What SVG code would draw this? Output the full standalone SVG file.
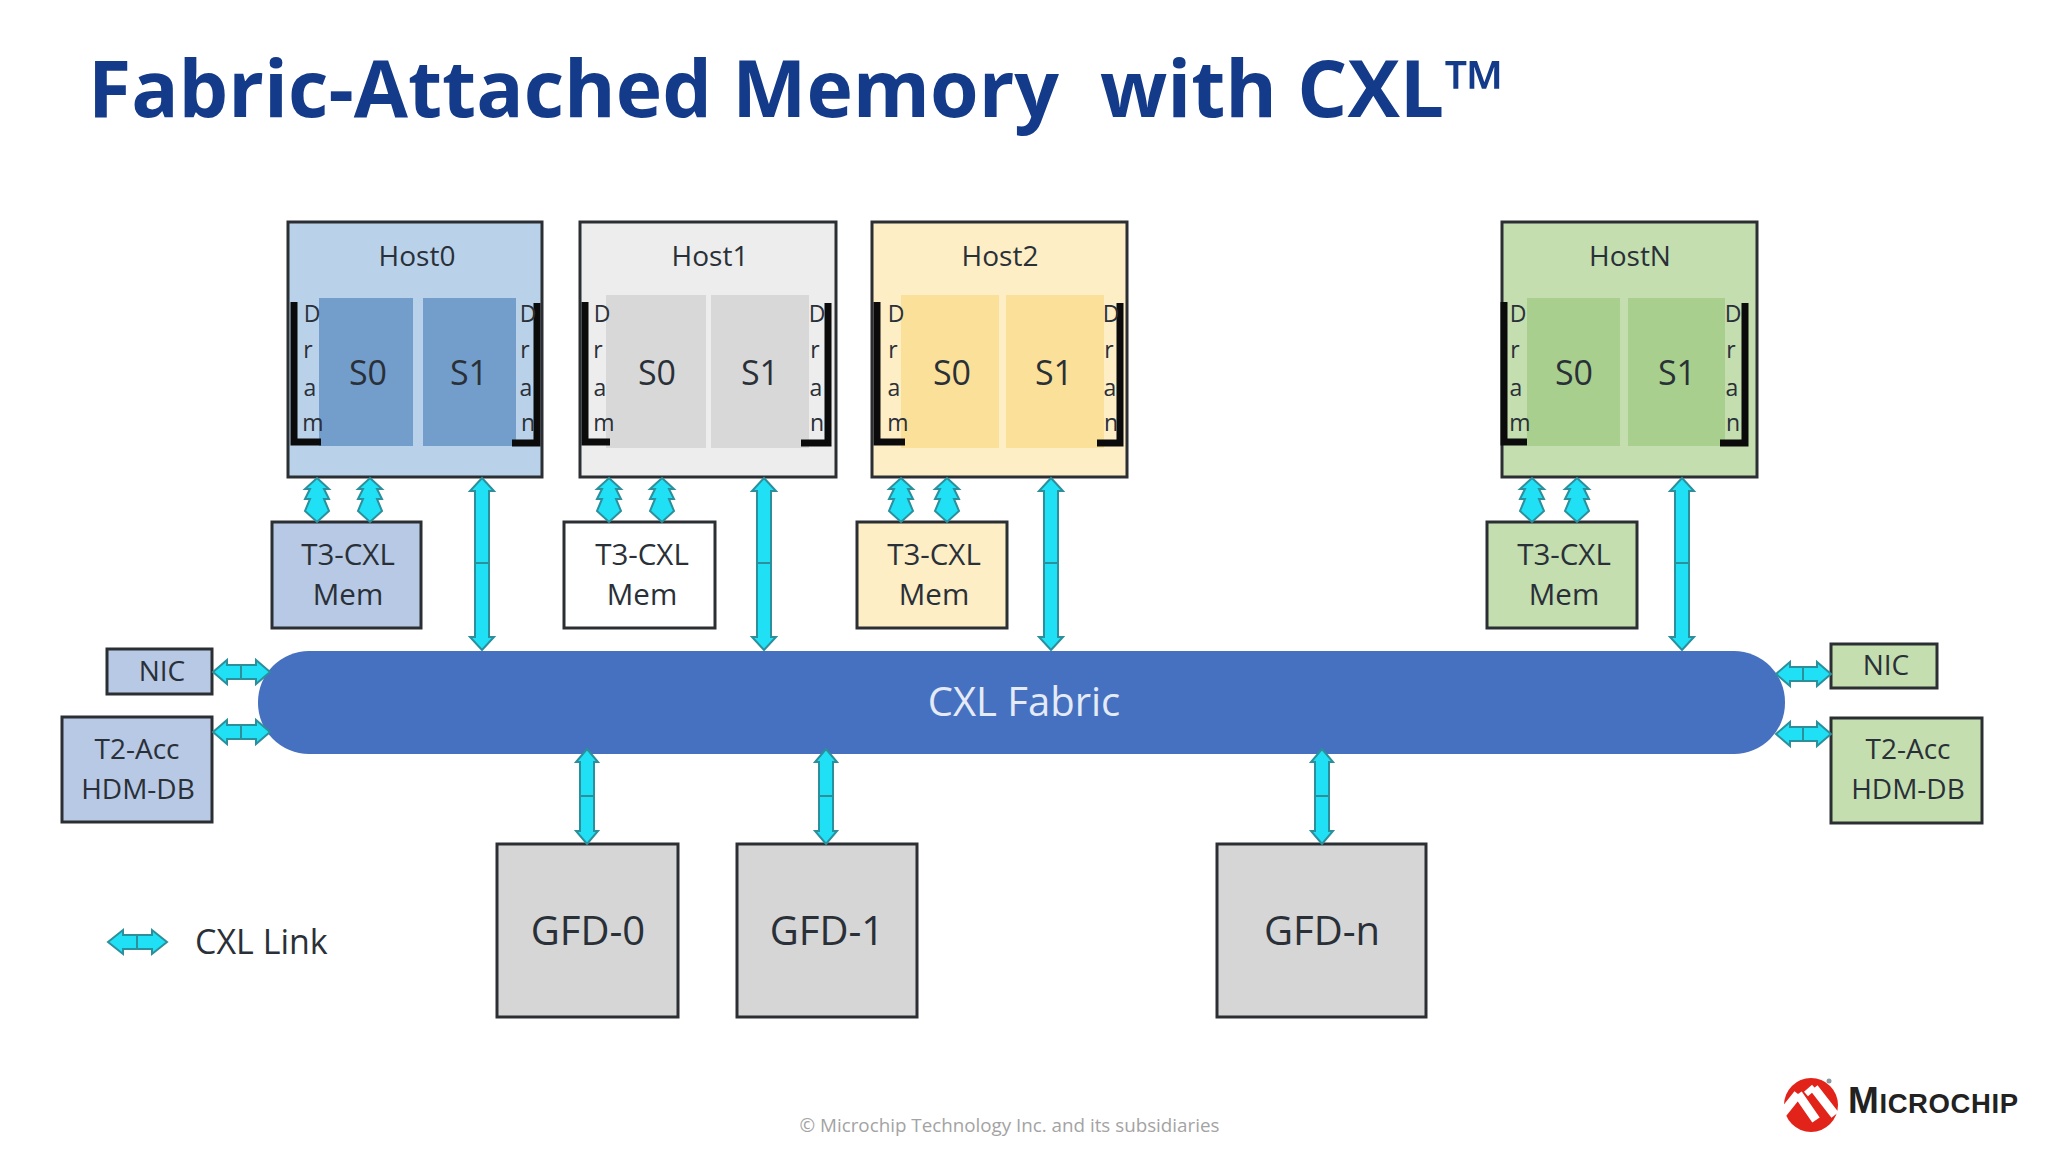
<svg xmlns="http://www.w3.org/2000/svg" width="2048" height="1152" viewBox="0 0 2048 1152">
<style>
text{font-family:"Open Sans","Noto Sans","Liberation Sans",sans-serif;fill:#2a3038;text-anchor:middle}
.box{stroke:#2b2f33;stroke-width:3}
.blue{fill:#b9d2ea}.grey{fill:#ededed}.yel{fill:#fdeec6}.grn{fill:#c4deaf}
.t3b{fill:#b7c9e4}.wht{fill:#fff}.gfd{fill:#d6d6d6}
.s{stroke:none}
.br{fill:none;stroke:#0b0b0b;stroke-width:7}
.h{font-size:28px}.sk{font-size:34px}.m{font-size:29.5px}.d text{font-size:23px}.g{font-size:40px}
.link{fill:#20e0f6;stroke:#2c8f9c;stroke-width:2}
</style>
<rect width="2048" height="1152" fill="#fff"/>
<text id="title" x="88" y="117" style="text-anchor:start;white-space:pre;font-size:78.6px;font-weight:700;fill:#143a8a">Fabric-Attached Memory  with CXL™</text>

<g id="host0">
<rect class="box blue" x="288" y="222" width="254" height="255"/>
<rect class="s" fill="#739dca" x="319" y="298" width="94" height="148"/>
<rect class="s" fill="#739dca" x="423" y="298" width="93" height="148"/>
<path class="br" d="M294 302V442H321M537 303V443H512"/>
<text class="h" x="417" y="266">Host0</text><text class="sk" x="368" y="385">S0</text><text class="sk" x="469" y="385">S1</text>
<g class="d"><text x="312" y="322">D</text><text x="308" y="358">r</text><text x="310" y="396">a</text><text x="313" y="431">m</text><text x="528" y="322">D</text><text x="525" y="358">r</text><text x="526" y="396">a</text><text x="528" y="431">n</text></g>
</g>
<g id="host1">
<rect class="box grey" x="580" y="222" width="256" height="255"/>
<rect class="s" fill="#d8d8d8" x="606" y="295" width="100" height="153"/>
<rect class="s" fill="#d8d8d8" x="711" y="295" width="98" height="153"/>
<path class="br" d="M585 302V442H610M828 303V443H801"/>
<text class="h" x="710" y="266">Host1</text><text class="sk" x="657" y="385">S0</text><text class="sk" x="760" y="385">S1</text>
<g class="d"><text x="602" y="322">D</text><text x="598" y="358">r</text><text x="600" y="396">a</text><text x="604" y="431">m</text><text x="817" y="322">D</text><text x="815" y="358">r</text><text x="816" y="396">a</text><text x="817" y="431">n</text></g>
</g>
<g id="host2">
<rect class="box yel" x="872" y="222" width="255" height="255"/>
<rect class="s" fill="#fbe099" x="901" y="295" width="98" height="153"/>
<rect class="s" fill="#fbe099" x="1006" y="295" width="98" height="153"/>
<path class="br" d="M877 302V442H905M1120 303V443H1097"/>
<text class="h" x="1000" y="266">Host2</text><text class="sk" x="952" y="385">S0</text><text class="sk" x="1054" y="385">S1</text>
<g class="d"><text x="896" y="322">D</text><text x="893" y="358">r</text><text x="894" y="396">a</text><text x="898" y="431">m</text><text x="1111" y="322">D</text><text x="1109" y="358">r</text><text x="1110" y="396">a</text><text x="1111" y="431">n</text></g>
</g>
<g id="hostN">
<rect class="box grn" x="1502" y="222" width="255" height="255"/>
<rect class="s" fill="#a8cf8d" x="1527" y="298" width="93" height="148"/>
<rect class="s" fill="#a8cf8d" x="1628" y="298" width="97" height="148"/>
<path class="br" d="M1504 302V442H1527M1745 303V443H1720"/>
<text class="h" x="1630" y="266">HostN</text><text class="sk" x="1574" y="385">S0</text><text class="sk" x="1677" y="385">S1</text>
<g class="d"><text x="1518" y="322">D</text><text x="1515" y="358">r</text><text x="1516" y="396">a</text><text x="1520" y="431">m</text><text x="1733" y="322">D</text><text x="1731" y="358">r</text><text x="1732" y="396">a</text><text x="1733" y="431">n</text></g>
</g>

<g id="t3-0"><rect class="box t3b" x="272" y="522" width="149" height="106"/><text class="m" x="348" y="565">T3-CXL</text><text class="m" x="348" y="605">Mem</text></g>
<g id="t3-1"><rect class="box wht" x="564" y="522" width="151" height="106"/><text class="m" x="642" y="565">T3-CXL</text><text class="m" x="642" y="605">Mem</text></g>
<g id="t3-2"><rect class="box yel" x="857" y="522" width="150" height="106"/><text class="m" x="934" y="565">T3-CXL</text><text class="m" x="934" y="605">Mem</text></g>
<g id="t3-n"><rect class="box grn" x="1487" y="522" width="150" height="106"/><text class="m" x="1564" y="565">T3-CXL</text><text class="m" x="1564" y="605">Mem</text></g>

<g id="fabric"><rect x="258" y="651" width="1527" height="103" rx="51" fill="#4571c0"/><text x="1024" y="716" style="font-size:40px;fill:#e4eaf6">CXL Fabric</text></g>

<g id="nic-l"><rect class="box t3b" x="107" y="649" width="105" height="45"/><text class="h" x="162" y="681">NIC</text></g>
<g id="t2-l"><rect class="box t3b" x="62" y="717" width="150" height="105"/><text class="h" x="137" y="759">T2-Acc</text><text class="h" x="138" y="799">HDM-DB</text></g>
<g id="nic-r"><rect class="box grn" x="1831" y="644" width="106" height="44"/><text class="h" x="1886" y="675">NIC</text></g>
<g id="t2-r"><rect class="box grn" x="1831" y="718" width="151" height="105"/><text class="h" x="1908" y="759">T2-Acc</text><text class="h" x="1908" y="799">HDM-DB</text></g>

<g id="gfd-0"><rect class="box gfd" x="497" y="844" width="181" height="173"/><text class="g" x="588" y="945">GFD-0</text></g>
<g id="gfd-1"><rect class="box gfd" x="737" y="844" width="180" height="173"/><text class="g" x="827" y="945">GFD-1</text></g>
<g id="gfd-n"><rect class="box gfd" x="1217" y="844" width="209" height="173"/><text class="g" x="1322" y="945">GFD-n</text></g>

<g id="connectors">
<path class="link" d="M317 478l12 11-5 0 5 10-5 0 5 12-12 11-12-11 5-12-5 0 5-10-5 0z"/>
<path class="link" d="M370 478l12 11-5 0 5 10-5 0 5 12-12 11-12-11 5-12-5 0 5-10-5 0z"/>
<path class="link" d="M609 478l12 11-5 0 5 10-5 0 5 12-12 11-12-11 5-12-5 0 5-10-5 0z"/>
<path class="link" d="M662 478l12 11-5 0 5 10-5 0 5 12-12 11-12-11 5-12-5 0 5-10-5 0z"/>
<path class="link" d="M901 478l12 11-5 0 5 10-5 0 5 12-12 11-12-11 5-12-5 0 5-10-5 0z"/>
<path class="link" d="M947 478l12 11-5 0 5 10-5 0 5 12-12 11-12-11 5-12-5 0 5-10-5 0z"/>
<path class="link" d="M1532 478l12 11-5 0 5 10-5 0 5 12-12 11-12-11 5-12-5 0 5-10-5 0z"/>
<path class="link" d="M1577 478l12 11-5 0 5 10-5 0 5 12-12 11-12-11 5-12-5 0 5-10-5 0z"/>
<path class="link" d="M482 478l12 13-5 0v146h5l-12 13-12-13h5v-146h-5zM475 563h14"/>
<path class="link" d="M764 478l12 13-5 0v146h5l-12 13-12-13h5v-146h-5zM757 563h14"/>
<path class="link" d="M1051 478l12 13-5 0v146h5l-12 13-12-13h5v-146h-5zM1044 563h14"/>
<path class="link" d="M1682 478l12 13-5 0v146h5l-12 13-12-13h5v-146h-5zM1675 563h14"/>
<path class="link" d="M587 749l11 13-4 0v69h4l-11 13-11-13h4v-69h-4zM580 796h14"/>
<path class="link" d="M826 749l11 13-4 0v69h4l-11 13-11-13h4v-69h-4zM819 796h14"/>
<path class="link" d="M1322 749l11 13-4 0v69h4l-11 13-11-13h4v-69h-4zM1315 796h14"/>
<path class="link" d="M213 672l14-12 0 5h29v-5l14 12-14 12v-5h-29v5zM241 665v14"/>
<path class="link" d="M213 732l14-12 0 5h29v-5l14 12-14 12v-5h-29v5zM241 725v14"/>
<path class="link" d="M1776 674l14-12 0 5h27v-5l14 12-14 12v-5h-27v5zM1803 667v14"/>
<path class="link" d="M1776 734l14-12 0 5h27v-5l14 12-14 12v-5h-27v5zM1803 727v14"/>
<path class="link" d="M108 942l15-12 0 5h29v-5l15 12-15 12v-5h-29v5zM137 935v14"/>
</g>
<text id="legend" x="195" y="954" style="text-anchor:start;font-size:34px">CXL Link</text>
<text id="footer" x="1009.500" y="1132" style="font-size:18.800px;fill:#a3a3a3">© Microchip Technology Inc. and its subsidiaries</text>
<g id="logo">
<circle cx="1811" cy="1105" r="27" fill="#e2231a"/>
<path d="M1782 1114L1798 1094M1798 1094L1816 1120M1814 1088L1835 1115" fill="none" stroke="#fff" stroke-width="9"/>
<path d="M1806 1094L1814 1087" fill="none" stroke="#fff" stroke-width="6"/>
<circle cx="1829" cy="1081" r="2.500" fill="#8a9aa0"/>
<text x="1848" y="1113" style="text-anchor:start;font-family:'Liberation Sans',sans-serif;font-weight:700;font-size:37px;letter-spacing:0.6px;fill:#222">M<tspan style="font-size:27.500px">ICROCHIP</tspan></text>
</g>
</svg>
